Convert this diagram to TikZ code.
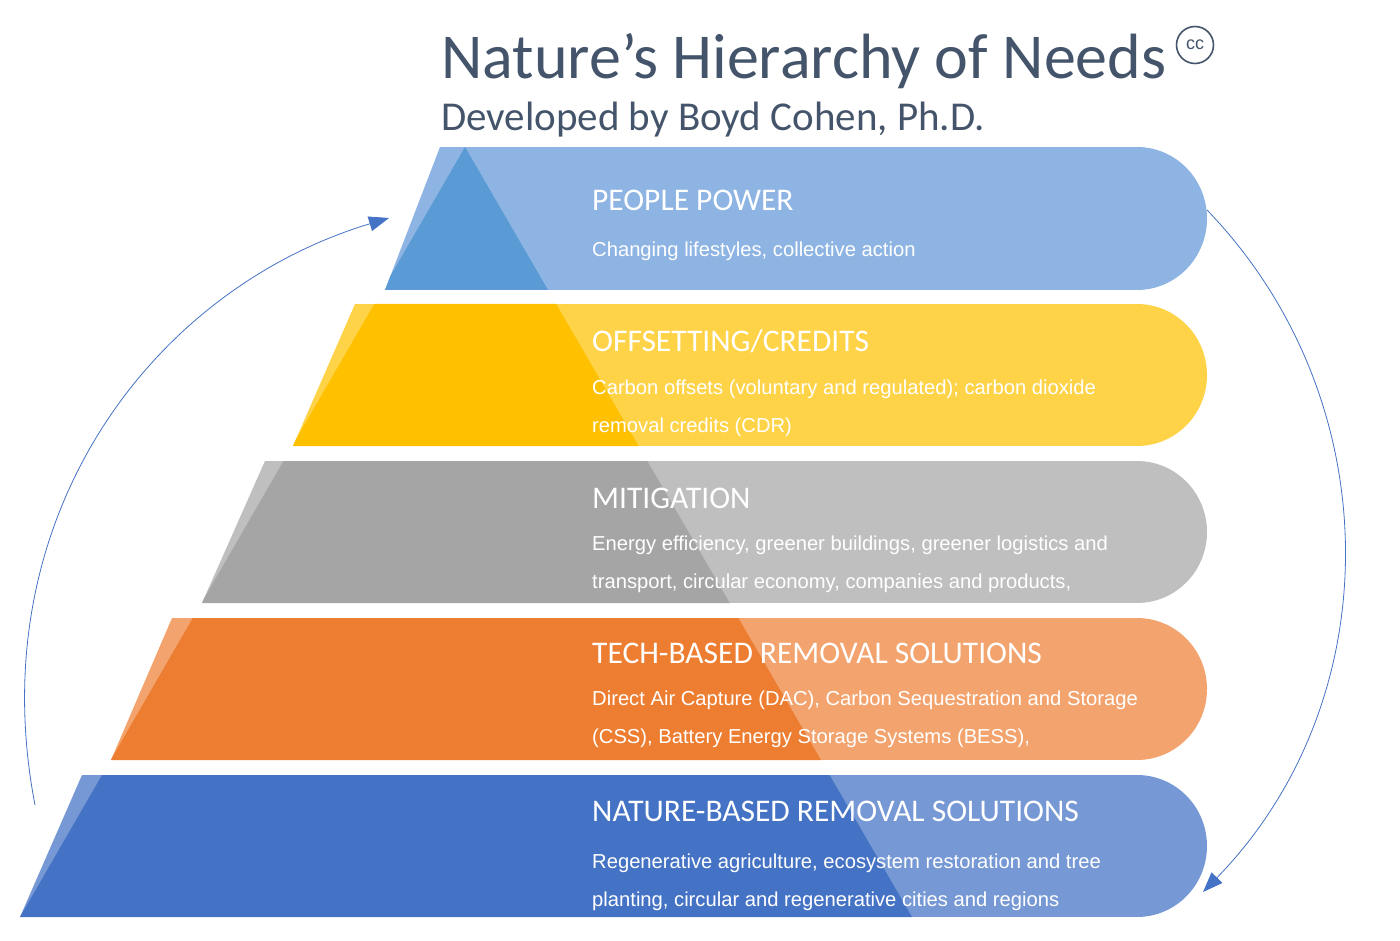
\documentclass[tikz,border=0pt]{standalone}
\usepackage{fontspec}
\setmainfont{Liberation Sans}
\newfontfamily\calfnt{Carlito}
\usetikzlibrary{arrows.meta}
\definecolor{tc}{HTML}{44546A}
\definecolor{pl}{HTML}{8DB4E2}\definecolor{pd}{HTML}{5B9BD5}
\definecolor{yl}{HTML}{FFD348}\definecolor{yd}{HTML}{FFC000}
\definecolor{gl}{HTML}{BFBFBF}\definecolor{gd}{HTML}{A5A5A5}
\definecolor{ol}{HTML}{F3A46E}\definecolor{od}{HTML}{ED7D31}
\definecolor{bl}{HTML}{7698D4}\definecolor{bd}{HTML}{4472C4}
\definecolor{ar}{HTML}{4472C4}
\begin{document}
\begin{tikzpicture}[x=1pt,y=-1pt,
 ttl/.style={anchor=base west,text=white,inner sep=0,font=\calfnt\fontsize{31.5}{34}\selectfont},
 dsc/.style={anchor=base west,text=white,inner sep=0,font=\fontsize{20.2}{38}\selectfont,align=left},
 arr/.style={draw=ar,line width=0.8pt,-{Triangle[length=20pt,width=15pt,fill=ar]}}]
\useasboundingbox (0,0) rectangle (1400,941);
\newcommand\band[6]{% top, bottom, topleft x, bottomleft x, light, dark
 \begin{scope}
 \path[clip] (#3,#1) -- (1137,#1) arc(-90:90:70 and {(#2-#1)/2}) -- (#4,#2) -- cycle;
 \fill[#5] (0,#1) rectangle (1400,#2);
 \fill[#6] (465,147) -- (20,917) -- (912,917) -- cycle;
 \end{scope}}
\band{147}{290}{440}{385}{pl}{pd}
\band{304}{446}{355}{293}{yl}{yd}
\band{461}{603}{265}{202}{gl}{gd}
\band{618}{760}{172}{111}{ol}{od}
\band{775}{917}{82}{20}{bl}{bd}
\node[anchor=base west,text=tc,font=\calfnt\fontsize{64}{66}\selectfont,inner sep=0] (t) at (441,79) {Nature’s Hierarchy of Needs};
\node[draw=tc,circle,line width=1.6pt,minimum size=37pt,inner sep=0,text=tc,font=\fontsize{18}{18}\selectfont] (cc) at (1195,45) {cc};
\node[anchor=base west,text=tc,font=\calfnt\fontsize{41}{44}\selectfont,inner sep=0] (st) at (441,131) {Developed by Boyd Cohen, Ph.D.};
\node[ttl] (a1) at (592,211) {PEOPLE POWER};
\node[dsc] (b1) at (592,257) {Changing lifestyles, collective action};
\node[ttl] (a2) at (592,351) {OFFSETTING/CREDITS};
\node[dsc] (b2) at (592,432) {Carbon offsets (voluntary and regulated); carbon dioxide\\removal credits (CDR)};
\node[ttl] (a3) at (592,508) {MITIGATION};
\node[dsc] (b3) at (592,588) {Energy efficiency, greener buildings, greener logistics and\\transport, circular economy, companies and products,};
\node[ttl] (a4) at (592,663) {TECH-BASED REMOVAL SOLUTIONS};
\node[dsc] (b4) at (592,743) {Direct Air Capture (DAC), Carbon Sequestration and Storage\\(CSS), Battery Energy Storage Systems (BESS),};
\node[ttl] (a5) at (592,821) {NATURE-BASED REMOVAL SOLUTIONS};
\node[dsc] (b5) at (592,906) {Regenerative agriculture, ecosystem restoration and tree\\planting, circular and regenerative cities and regions};
\coordinate (l1) at (35,805); \coordinate (l2) at (389,218);
\coordinate (r1) at (1207,210); \coordinate (r2) at (1203,892);
\draw[arr] (l1) .. controls (-20,520) and (150,290) .. (l2);
\draw[arr] (r1) .. controls (1390,400) and (1390,700) .. (r2);
\end{tikzpicture}
\end{document}
